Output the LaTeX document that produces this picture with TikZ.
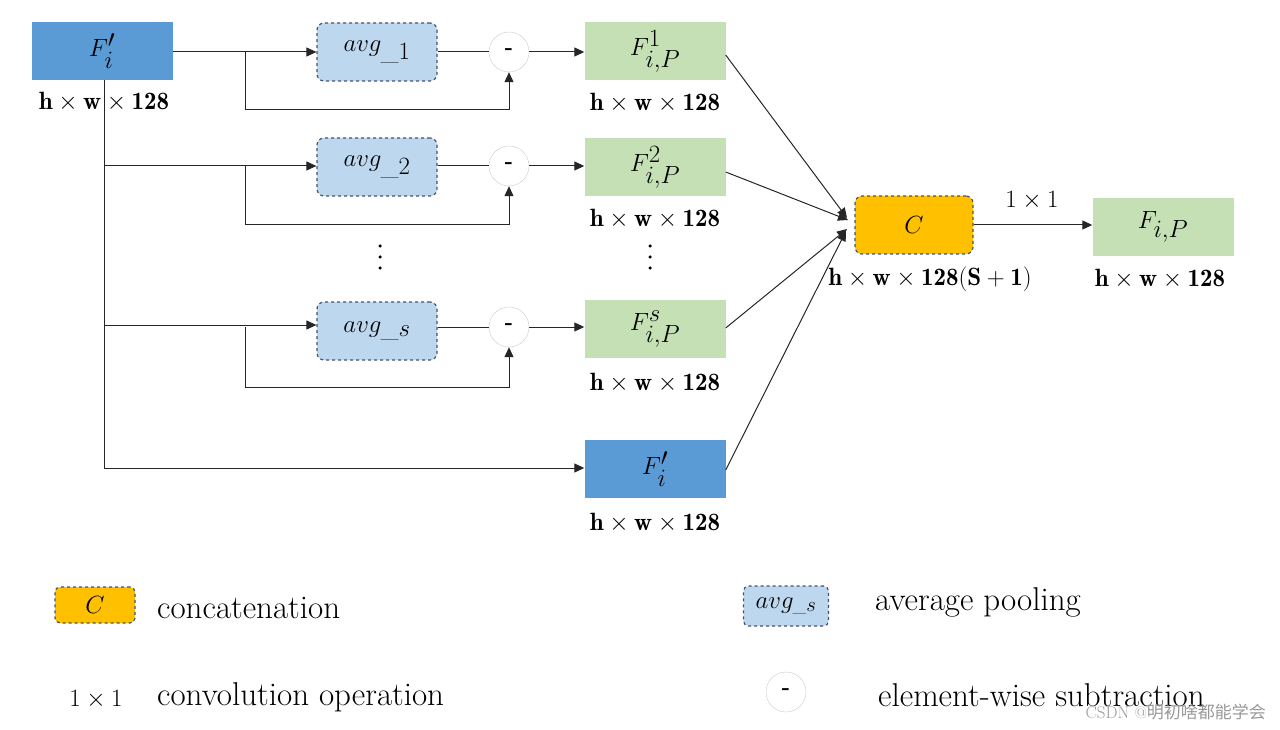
\documentclass[tikz,border=0pt]{standalone}
\usepackage{amsmath}
\usepackage{fontspec}
\newfontfamily\cjk{Noto Sans CJK SC}
\usetikzlibrary{arrows.meta}
\definecolor{fblue}{HTML}{5B9BD5}
\definecolor{pblue}{HTML}{BDD7EE}
\definecolor{dblue}{HTML}{44546A}
\definecolor{pgreen}{HTML}{C5E0B4}
\definecolor{orng}{HTML}{FFC000}
\begin{document}
\begin{tikzpicture}[x=1pt,y=-1pt,
 >={Triangle[length=10pt,width=9pt]},
 line/.style={draw=black!85,line width=1pt},
 big/.style={font=\fontsize{37}{40}\selectfont},
 fbox/.style={fill=fblue,minimum width=141pt,minimum height=58pt,inner sep=0pt,big},
 gbox/.style={fill=pgreen,minimum width=141pt,minimum height=58pt,inner sep=0pt,big},
 abox/.style={draw=dblue,dashed,line width=1.2pt,fill=pblue,rounded corners=7pt,minimum width=120pt,minimum height=58pt,inner sep=0pt,big},
 cbox/.style={draw=dblue,dashed,line width=1.2pt,fill=orng,rounded corners=7pt,minimum width=118pt,minimum height=58pt,inner sep=0pt,big},
 sub/.style={circle,draw=black!20,fill=white,minimum size=40pt,inner sep=0pt,font=\fontsize{22}{24}\selectfont\bfseries},
 dim/.style={font=\fontsize{25}{28}\selectfont,inner sep=0pt},
 leg/.style={font=\fontsize{33}{36}\selectfont,anchor=west,inner sep=0pt},
 dot/.style={circle,fill=black,inner sep=0pt,minimum size=3.5pt}]
\useasboundingbox (0,0) rectangle (1280,730);
\node[fbox] (f0) at (102,51) {$F_i'$};
\node[dim] (d0) at (104,102) {$\mathbf{h\times w\times 128}$};
\node[abox] (a1) at (377,52) {$avg_{\_1}$};
\node[abox] (a2) at (377,167) {$avg_{\_2}$};
\node[abox] (a3) at (377,331) {$avg_{\_s}$};
\node[sub] (s1) at (509,52) {-};
\node[sub] (s2) at (509,166) {-};
\node[sub] (s3) at (509,327) {-};
\node[gbox] (g1) at (655,51) {$F_{i,P}^{1}$};
\node[gbox] (g2) at (655,167) {$F_{i,P}^{2}$};
\node[gbox] (g3) at (655,329) {$F_{i,P}^{s}$};
\node[fbox] (f1) at (655,469) {$F_i'$};
\node[dim] (d1) at (655,103) {$\mathbf{h\times w\times 128}$};
\node[dim] (d2) at (655,219) {$\mathbf{h\times w\times 128}$};
\node[dim] (d3) at (655,383) {$\mathbf{h\times w\times 128}$};
\node[dim] (d4) at (655,523) {$\mathbf{h\times w\times 128}$};
\foreach \yy in {246,257,268} {
  \node[dot] at (380,\yy) {};
  \node[dot] at (650,\yy) {};
}
\node[cbox] (c) at (914,225) {$C$};
\node[dim] (dc) at (930,279) {$\mathbf{h\times w\times 128(S+1)}$};
\node[gbox] (out) at (1163,227) {$F_{i,P}$};
\node[dim] (dout) at (1160,279) {$\mathbf{h\times w\times 128}$};
\node[font=\fontsize{33}{36}\selectfont,inner sep=0pt] (k) at (1032,201) {$1\times 1$};
\coordinate (t) at (104,80);
\coordinate (j1) at (104,166);
\coordinate (j2) at (104,325);
\coordinate (j3) at (104,468);
\coordinate (b1) at (245,52);
\coordinate (b2) at (245,166);
\coordinate (b3) at (245,327);
\draw[line] (t) -- (j3);
\draw[line,->] (f0.east |- b1) -- (a1.west |- b1);
\draw[line,->] (j1) -- (a2.west |- j1);
\draw[line,->] (j2) -- (a3.west |- j2);
\draw[line,->] (j3) -- (f1.west |- j3);
\draw[line,->] (b1) -- (245,110) -- (509,110) -- (s1.south);
\draw[line,->] (b2) -- (245,225) -- (509,225) -- (s2.south);
\draw[line,->] (b3) -- (245,387) -- (509,387) -- (s3.south);
\draw[line] (a1.east) -- (s1.west);
\draw[line] (a2.east |- s2) -- (s2.west);
\draw[line] (a3.east |- s3) -- (s3.west);
\draw[line,->] (s1.east) -- (g1.west |- s1);
\draw[line,->] (s2.east) -- (g2.west |- s2);
\draw[line,->] (s3.east) -- (g3.west |- s3);
\draw[line,->] (g1.east |- 0,55) -- (847,218);
\draw[line,->] (g2.east |- 0,172) -- (848,220);
\draw[line,->] (g3.east |- 0,328) -- (847,229);
\draw[line,->] (f1.east |- 0,470) -- (846,231);
\draw[line,->] (c.east) -- (out.west |- c);
% legend
\node[cbox,minimum width=80pt,minimum height=36pt,font=\fontsize{30}{32}\selectfont,rounded corners=5pt] (lc) at (95,605) {$C$};
\node[leg] (lct) at (157,608) {concatenation};
\node[font=\fontsize{33}{36}\selectfont,inner sep=0pt] (lk) at (96,700) {$1\times 1$};
\node[leg] (lkt) at (157,697) {convolution operation};
\node[abox,minimum width=85pt,minimum height=40pt,font=\fontsize{28}{30}\selectfont,rounded corners=5pt] (la) at (786,606) {$avg_{\_s}$};
\node[leg] (lat) at (875,602) {average pooling};
\node[sub] (ls) at (786,692) {-};
\node[leg] (lst) at (878,695) {element-wise subtraction};
\node[anchor=east,inner sep=0pt,text=black!40,font=\fontsize{17}{20}\selectfont] (wm) at (1266,712) {CSDN @{\cjk 明初啥都能学会}};
\end{tikzpicture}
\end{document}
